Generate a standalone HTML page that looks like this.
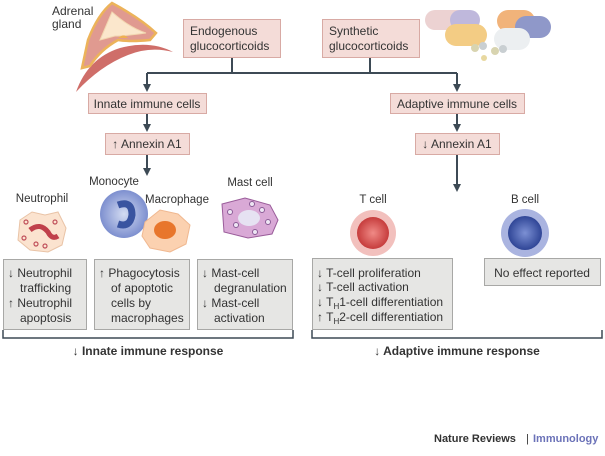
<!DOCTYPE html>
<html><head><meta charset="utf-8"><style>
body{margin:0;width:605px;height:451px;background:#fff;overflow:hidden;font-family:"Liberation Sans",sans-serif;}
svg text{font-family:"Liberation Sans",sans-serif;fill:#333;}
</style></head><body>
<svg width="605" height="451" viewBox="0 0 605 451" xmlns="http://www.w3.org/2000/svg">
<defs>
<marker id="a" markerWidth="8" markerHeight="8" refX="4" refY="4" orient="auto" markerUnits="userSpaceOnUse"><path d="M0,0 L8,4 L0,8 z" fill="#3d4a55"/></marker>
<radialGradient id="tc"><stop offset="0" stop-color="#f08a86"/><stop offset="1" stop-color="#c63c3c"/></radialGradient>
<radialGradient id="bc"><stop offset="0" stop-color="#7c90d4"/><stop offset="1" stop-color="#2f4596"/></radialGradient>
<radialGradient id="mo"><stop offset="0" stop-color="#d4dcf2"/><stop offset="1" stop-color="#7d8fcf"/></radialGradient>
<linearGradient id="sk" x1="0" y1="0" x2="0" y2="1"><stop offset="0" stop-color="#e6a7a0"/><stop offset="1" stop-color="#fbe9e4"/></linearGradient>
</defs>
<!-- adrenal gland -->
<path d="M76,92 Q88,58 120,48 Q150,40 173,52 Q150,46 128,55 Q100,66 76,92 Z" fill="#c7554f" opacity="0.85"/>
<path d="M82,68 L88,40 Q98,14 112,3 Q140,18 156,33 L150,40 Q130,42 118,40 Q100,50 90,66 Z" fill="#e09a90" stroke="#ecb35a" stroke-width="2.5"/>
<path d="M100,40 L112,12 Q130,28 146,33 Q125,36 115,36 Z" fill="#fbe7cc" stroke="#f2d7b0"/>
<path d="M118,38 Q124,33 128,38 Z" fill="#eeb050"/>
<text x="52" y="15" font-size="12">Adrenal</text><text x="52" y="28" font-size="12">gland</text>
<!-- pills -->
<rect x="425" y="10" width="48" height="20" rx="10" fill="#ecd2d2"/>
<rect x="450" y="10" width="30" height="20" rx="10" fill="#bfb8dc"/>
<rect x="497" y="10" width="38" height="22" rx="11" fill="#f1b37a"/>
<rect x="515" y="16" width="36" height="22" rx="11" fill="#8f98c9"/>
<rect x="445" y="24" width="42" height="22" rx="11" fill="#f3cc84"/>
<rect x="494" y="28" width="36" height="22" rx="11" fill="#eceff1"/>
<circle cx="475" cy="48" r="4" fill="#d8d4b0"/><circle cx="483" cy="46" r="4" fill="#c9cfd2"/><circle cx="484" cy="58" r="3" fill="#e8d8a0"/><circle cx="495" cy="51" r="4" fill="#d8d4b0"/><circle cx="503" cy="49" r="4" fill="#c9cfd2"/>
<!-- top boxes -->
<g fill="#f4dcd8" stroke="#d8aaa4">
<rect x="183.5" y="19.5" width="97" height="38"/>
<rect x="322.5" y="19.5" width="97" height="38"/>
<rect x="88.5" y="93.5" width="118" height="20"/>
<rect x="105.5" y="133.5" width="84" height="21"/>
<rect x="390.5" y="93.5" width="134" height="20"/>
<rect x="415.5" y="133.5" width="84" height="21"/>
</g>
<g font-size="12">
<text x="190" y="35">Endogenous</text><text x="190" y="50">glucocorticoids</text>
<text x="329" y="35">Synthetic</text><text x="329" y="50">glucocorticoids</text>
<text x="147" y="108" text-anchor="middle">Innate immune cells</text>
<text x="147" y="148" text-anchor="middle">↑ Annexin A1</text>
<text x="457" y="108" text-anchor="middle">Adaptive immune cells</text>
<text x="457" y="148" text-anchor="middle">↓ Annexin A1</text>
</g>
<g stroke="#3d4a55" stroke-width="2" fill="none">
<path d="M232,58 V73 M370,58 V73 M147,73 H457"/>
<path d="M147,73 V88" marker-end="url(#a)"/><path d="M457,73 V88" marker-end="url(#a)"/>
<path d="M147,114 V128" marker-end="url(#a)"/><path d="M457,114 V128" marker-end="url(#a)"/>
<path d="M147,155 V172" marker-end="url(#a)"/><path d="M457,155 V188" marker-end="url(#a)"/>
<path d="M3,330 V338 H293 V330" stroke-width="1.5"/>
<path d="M312,330 V338 H602 V330" stroke-width="1.5"/>
</g>
<!-- cells -->
<g font-size="11.5">
<text x="42" y="202" text-anchor="middle">Neutrophil</text>
<text x="114" y="185" text-anchor="middle">Monocyte</text>
<text x="177" y="203" text-anchor="middle">Macrophage</text>
<text x="250" y="186" text-anchor="middle">Mast cell</text>
<text x="373" y="203" text-anchor="middle">T cell</text>
<text x="525" y="203" text-anchor="middle">B cell</text>
</g>
<path d="M20,220 L32,212 L45,215 L58,212 L66,228 L62,245 L48,252 L30,250 L18,240 Z" fill="#fbe3cf" stroke="#e9c3a6"/>
<path d="M30,230 Q40,222 48,232 Q52,240 58,236" stroke="#c0404a" stroke-width="5" fill="none"/>
<g fill="none" stroke="#c0505a" stroke-width="1.2"><circle cx="26" cy="222" r="2"/><circle cx="36" cy="244" r="2"/><circle cx="55" cy="222" r="2"/><circle cx="45" cy="246" r="2"/><circle cx="24" cy="238" r="2"/></g>
<circle cx="124" cy="214" r="24" fill="url(#mo)"/>
<path d="M118,205 Q132,200 132,215 Q130,228 118,224" stroke="#3a54a0" stroke-width="7" fill="none"/>
<path d="M145,222 L160,210 L178,214 L190,225 L186,244 L170,252 L150,248 L142,236 Z" fill="#fbd1b0" stroke="#f0b890"/>
<ellipse cx="165" cy="230" rx="11" ry="9" fill="#e8762c"/>
<path d="M222,204 L245,198 L270,205 L278,220 L272,234 L248,238 L224,232 Z" fill="#d9a9d6" stroke="#9a5c9a"/>
<ellipse cx="249" cy="218" rx="11" ry="8" fill="#e6e2f2"/>
<g fill="#eee6f4" stroke="#8a5c96" stroke-width="1"><circle cx="230" cy="212" r="2.5"/><circle cx="236" cy="225" r="2.5"/><circle cx="262" cy="210" r="2.5"/><circle cx="268" cy="222" r="2.5"/><circle cx="252" cy="204" r="2.5"/><circle cx="255" cy="232" r="2.5"/></g>
<circle cx="373" cy="233" r="23" fill="#f2c0bd"/><circle cx="373" cy="233" r="16" fill="url(#tc)"/>
<circle cx="525" cy="233" r="24" fill="#aab4e0"/><circle cx="525" cy="233" r="17" fill="url(#bc)"/>
<!-- outcome boxes -->
<g fill="#e6e6e4" stroke="#a8a8a6">
<rect x="3.5" y="259.5" width="83" height="70"/>
<rect x="94.5" y="259.5" width="95" height="70"/>
<rect x="197.5" y="259.5" width="95" height="70"/>
<rect x="312.5" y="258.5" width="140" height="71"/>
<rect x="484.5" y="258.5" width="116" height="27"/>
</g>
<g font-size="12">
<text x="8" y="277">↓ Neutrophil</text><text x="20" y="292">trafficking</text><text x="8" y="307">↑ Neutrophil</text><text x="20" y="322">apoptosis</text>
<text x="99" y="277">↑ Phagocytosis</text><text x="111" y="292">of apoptotic</text><text x="111" y="307">cells by</text><text x="111" y="322">macrophages</text>
<text x="202" y="277">↓ Mast-cell</text><text x="214" y="292">degranulation</text><text x="202" y="307">↓ Mast-cell</text><text x="214" y="322">activation</text>
<text x="317" y="277">↓ T-cell proliferation</text><text x="317" y="291">↓ T-cell activation</text>
<text x="317" y="306">↓ T<tspan font-size="8" dy="3">H</tspan><tspan dy="-3">1-cell differentiation</tspan></text>
<text x="317" y="321">↑ T<tspan font-size="8" dy="3">H</tspan><tspan dy="-3">2-cell differentiation</tspan></text>
<text x="542" y="277" text-anchor="middle">No effect reported</text>
</g>
<g font-size="12" font-weight="bold">
<text x="148" y="355" text-anchor="middle">↓ Innate immune response</text>
<text x="457" y="355" text-anchor="middle">↓ Adaptive immune response</text>
</g>
<text x="434" y="442" font-size="11" font-weight="bold" fill="#333">Nature Reviews</text>
<text x="526" y="442" font-size="11" fill="#333">|</text>
<text x="533" y="442" font-size="11" font-weight="bold" style="fill:#6b72b8">Immunology</text>
</svg>
</body></html>
